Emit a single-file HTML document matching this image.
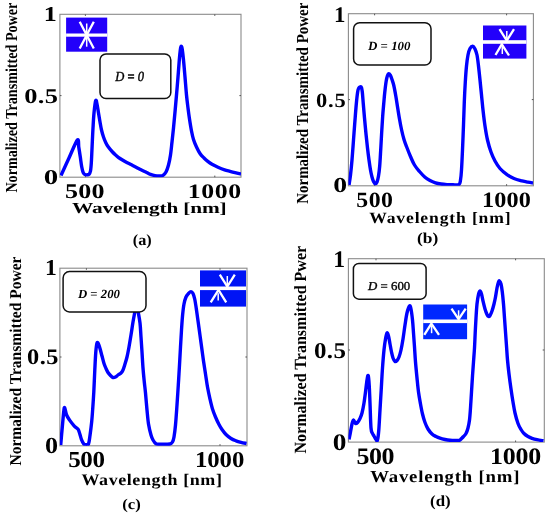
<!DOCTYPE html>
<html><head><meta charset="utf-8"><title>Transmitted power spectra</title>
<style>
html,body{margin:0;padding:0;background:#fff;}
svg{display:block;}
</style></head>
<body>
<svg width="550" height="516" viewBox="0 0 550 516">
<rect width="550" height="516" fill="#fff"/>
<rect x="59.9" y="14.3" width="181.10" height="162.90" fill="none" stroke="#8a8a8a" stroke-width="1.1"/>
<path d="M85.4,177.2 v-1.6 M85.4,14.3 v1.6" stroke="#555" stroke-width="1"/>
<path d="M214.8,177.2 v-1.6 M214.8,14.3 v1.6" stroke="#555" stroke-width="1"/>
<path d="M59.9,95.6 h1.6 M241,95.6 h-1.6" stroke="#555" stroke-width="1"/>
<clipPath id="clipa"><rect x="59.9" y="14.3" width="181.10" height="162.90"/></clipPath>
<path d="M61.00,175.50 C62.33,172.58 66.27,163.92 69.00,158.00 C71.73,152.08 75.77,141.77 77.40,140.00 C79.03,138.23 78.32,144.55 78.80,147.40 C79.28,150.25 79.82,153.87 80.30,157.10 C80.78,160.33 81.22,164.22 81.70,166.80 C82.18,169.38 82.65,171.30 83.20,172.60 C83.75,173.90 84.37,174.23 85.00,174.60 C85.63,174.97 86.33,174.85 87.00,174.80 C87.67,174.75 88.42,174.93 89.00,174.30 C89.58,173.67 90.12,172.88 90.50,171.00 C90.88,169.12 91.07,166.33 91.30,163.00 C91.53,159.67 91.72,154.83 91.90,151.00 C92.08,147.17 92.22,143.83 92.40,140.00 C92.58,136.17 92.73,132.50 93.00,128.00 C93.27,123.50 93.55,117.58 94.00,113.00 C94.45,108.42 95.20,102.00 95.70,100.50 C96.20,99.00 96.53,101.92 97.00,104.00 C97.47,106.08 98.00,110.00 98.50,113.00 C99.00,116.00 99.50,119.17 100.00,122.00 C100.50,124.83 100.92,127.50 101.50,130.00 C102.08,132.50 102.83,135.00 103.50,137.00 C104.17,139.00 104.75,140.42 105.50,142.00 C106.25,143.58 106.83,144.83 108.00,146.50 C109.17,148.17 111.17,150.53 112.50,152.00 C113.83,153.47 114.75,154.22 116.00,155.30 C117.25,156.38 118.50,157.47 120.00,158.50 C121.50,159.53 123.17,160.48 125.00,161.50 C126.83,162.52 129.08,163.62 131.00,164.60 C132.92,165.58 134.83,166.53 136.50,167.40 C138.17,168.27 139.32,168.95 141.00,169.80 C142.68,170.65 145.02,171.73 146.60,172.50 C148.18,173.27 149.10,173.87 150.50,174.40 C151.90,174.93 153.42,175.43 155.00,175.70 C156.58,175.97 158.67,176.05 160.00,176.00 C161.33,175.95 162.00,176.07 163.00,175.40 C164.00,174.73 165.08,173.73 166.00,172.00 C166.92,170.27 167.75,167.83 168.50,165.00 C169.25,162.17 169.92,158.83 170.50,155.00 C171.08,151.17 171.50,146.50 172.00,142.00 C172.50,137.50 173.00,133.00 173.50,128.00 C174.00,123.00 174.50,117.50 175.00,112.00 C175.50,106.50 176.00,100.83 176.50,95.00 C177.00,89.17 177.53,82.83 178.00,77.00 C178.47,71.17 178.92,64.50 179.30,60.00 C179.68,55.50 180.00,52.30 180.30,50.00 C180.60,47.70 180.78,46.37 181.10,46.20 C181.42,46.03 181.80,46.70 182.20,49.00 C182.60,51.30 183.03,55.33 183.50,60.00 C183.97,64.67 184.50,71.17 185.00,77.00 C185.50,82.83 186.00,89.83 186.50,95.00 C187.00,100.17 187.50,104.00 188.00,108.00 C188.50,112.00 188.92,115.17 189.50,119.00 C190.08,122.83 190.83,127.58 191.50,131.00 C192.17,134.42 192.67,136.83 193.50,139.50 C194.33,142.17 195.42,144.67 196.50,147.00 C197.58,149.33 198.75,151.67 200.00,153.50 C201.25,155.33 202.70,156.68 204.00,158.00 C205.30,159.32 206.47,160.35 207.80,161.40 C209.13,162.45 210.30,163.33 212.00,164.30 C213.70,165.27 215.90,166.28 218.00,167.20 C220.10,168.12 222.60,169.12 224.60,169.80 C226.60,170.48 228.27,170.83 230.00,171.30 C231.73,171.77 233.17,172.15 235.00,172.60 C236.83,173.05 240.00,173.77 241.00,174.00" fill="none" stroke="#0000ff" stroke-width="3.4" stroke-linejoin="round" stroke-linecap="butt" clip-path="url(#clipa)"/>
<rect x="100.0" y="53.9" width="70.80" height="44.70" rx="6" ry="6" fill="#fff" stroke="#111" stroke-width="1.5"/>
<rect x="66.1" y="17.6" width="41.10" height="34.10" fill="#2300fa"/>
<rect x="66.1" y="33.5" width="41.10" height="3.20" fill="#fff"/>
<path d="M79.7,21.7 L86.7,35.1 L93.8,21.7" fill="none" stroke="#fff" stroke-width="2.3"/>
<path d="M86.7,23.5 V33.5" stroke="#fff" stroke-width="1.5"/>
<path d="M79.7,48.5 L86.7,35.1 L93.8,48.5" fill="none" stroke="#fff" stroke-width="2.3"/>
<path d="M86.7,36.7 V46.7" stroke="#fff" stroke-width="1.5"/>
<rect x="348.4" y="13.7" width="185.00" height="172.10" fill="none" stroke="#8a8a8a" stroke-width="1.1"/>
<path d="M374.6,185.8 v-1.6 M374.6,13.7 v1.6" stroke="#555" stroke-width="1"/>
<path d="M506.6,185.8 v-1.6 M506.6,13.7 v1.6" stroke="#555" stroke-width="1"/>
<path d="M348.4,99.6 h1.6 M533.4,99.6 h-1.6" stroke="#555" stroke-width="1"/>
<clipPath id="clipb"><rect x="348.4" y="13.7" width="185.00" height="172.10"/></clipPath>
<path d="M349.00,185.00 C349.25,183.33 350.00,179.17 350.50,175.00 C351.00,170.83 351.50,165.83 352.00,160.00 C352.50,154.17 353.00,146.67 353.50,140.00 C354.00,133.33 354.53,126.00 355.00,120.00 C355.47,114.00 355.88,108.50 356.30,104.00 C356.72,99.50 357.12,95.62 357.50,93.00 C357.88,90.38 357.98,89.30 358.60,88.30 C359.22,87.30 360.58,86.38 361.20,87.00 C361.82,87.62 361.95,89.17 362.30,92.00 C362.65,94.83 362.93,99.67 363.30,104.00 C363.67,108.33 364.05,113.00 364.50,118.00 C364.95,123.00 365.50,129.00 366.00,134.00 C366.50,139.00 367.00,143.67 367.50,148.00 C368.00,152.33 368.50,156.33 369.00,160.00 C369.50,163.67 370.00,167.17 370.50,170.00 C371.00,172.83 371.50,175.08 372.00,177.00 C372.50,178.92 372.95,180.37 373.50,181.50 C374.05,182.63 374.72,183.72 375.30,183.80 C375.88,183.88 376.47,183.30 377.00,182.00 C377.53,180.70 378.05,178.67 378.50,176.00 C378.95,173.33 379.33,170.33 379.70,166.00 C380.07,161.67 380.37,155.67 380.70,150.00 C381.03,144.33 381.37,137.67 381.70,132.00 C382.03,126.33 382.37,120.67 382.70,116.00 C383.03,111.33 383.35,108.00 383.70,104.00 C384.05,100.00 384.38,95.83 384.80,92.00 C385.22,88.17 385.75,83.75 386.20,81.00 C386.65,78.25 387.08,76.73 387.50,75.50 C387.92,74.27 388.23,73.65 388.70,73.60 C389.17,73.55 389.75,74.22 390.30,75.20 C390.85,76.18 391.42,77.78 392.00,79.50 C392.58,81.22 393.17,82.75 393.80,85.50 C394.43,88.25 395.15,92.25 395.80,96.00 C396.45,99.75 397.08,104.17 397.70,108.00 C398.32,111.83 398.87,115.42 399.50,119.00 C400.13,122.58 400.75,126.08 401.50,129.50 C402.25,132.92 403.13,136.58 404.00,139.50 C404.87,142.42 405.62,144.17 406.70,147.00 C407.78,149.83 409.20,153.50 410.50,156.50 C411.80,159.50 413.00,162.50 414.50,165.00 C416.00,167.50 417.75,169.47 419.50,171.50 C421.25,173.53 423.25,175.70 425.00,177.20 C426.75,178.70 428.25,179.57 430.00,180.50 C431.75,181.43 433.67,182.22 435.50,182.80 C437.33,183.38 439.08,183.70 441.00,184.00 C442.92,184.30 445.00,184.47 447.00,184.60 C449.00,184.73 451.00,184.82 453.00,184.80 C455.00,184.78 457.75,185.30 459.00,184.50 C460.25,183.70 460.08,182.42 460.50,180.00 C460.92,177.58 461.17,175.00 461.50,170.00 C461.83,165.00 462.17,157.50 462.50,150.00 C462.83,142.50 463.20,133.00 463.50,125.00 C463.80,117.00 464.00,109.17 464.30,102.00 C464.60,94.83 464.93,88.00 465.30,82.00 C465.67,76.00 466.05,70.50 466.50,66.00 C466.95,61.50 467.42,57.92 468.00,55.00 C468.58,52.08 469.20,49.97 470.00,48.50 C470.80,47.03 471.97,46.12 472.80,46.20 C473.63,46.28 474.30,47.53 475.00,49.00 C475.70,50.47 476.42,52.17 477.00,55.00 C477.58,57.83 478.00,61.83 478.50,66.00 C479.00,70.17 479.50,75.17 480.00,80.00 C480.50,84.83 481.00,90.00 481.50,95.00 C482.00,100.00 482.42,104.83 483.00,110.00 C483.58,115.17 484.25,121.00 485.00,126.00 C485.75,131.00 486.50,135.67 487.50,140.00 C488.50,144.33 489.75,148.50 491.00,152.00 C492.25,155.50 493.50,158.25 495.00,161.00 C496.50,163.75 498.00,166.23 500.00,168.50 C502.00,170.77 504.67,172.93 507.00,174.60 C509.33,176.27 511.50,177.45 514.00,178.50 C516.50,179.55 519.67,180.28 522.00,180.90 C524.33,181.52 526.17,181.85 528.00,182.20 C529.83,182.55 532.17,182.87 533.00,183.00" fill="none" stroke="#0000ff" stroke-width="3.4" stroke-linejoin="round" stroke-linecap="butt" clip-path="url(#clipb)"/>
<rect x="353.6" y="22.8" width="77.40" height="42.30" rx="6" ry="6" fill="#fff" stroke="#111" stroke-width="1.5"/>
<rect x="483" y="25.5" width="43.40" height="33.10" fill="#2300fa"/>
<rect x="483" y="40.2" width="43.40" height="3.60" fill="#fff"/>
<path d="M499.5,29.1 L506.8,40.5 L514,29.1" fill="none" stroke="#fff" stroke-width="2.3"/>
<path d="M506.8,31 V38.5" stroke="#fff" stroke-width="1.5"/>
<path d="M495.5,55 L501.8,44.3 L509,55.5" fill="none" stroke="#fff" stroke-width="2.3"/>
<path d="M502.3,47 V54" stroke="#fff" stroke-width="1.5"/>
<rect x="59.9" y="268.2" width="187.10" height="177.60" fill="none" stroke="#8a8a8a" stroke-width="1.1"/>
<path d="M86.4,445.8 v-1.6 M86.4,268.2 v1.6" stroke="#555" stroke-width="1"/>
<path d="M220,445.8 v-1.6 M220,268.2 v1.6" stroke="#555" stroke-width="1"/>
<path d="M59.9,357 h1.6 M247,357 h-1.6" stroke="#555" stroke-width="1"/>
<clipPath id="clipc"><rect x="59.9" y="268.2" width="187.10" height="177.60"/></clipPath>
<path d="M60.70,445.00 C60.97,442.00 61.78,432.67 62.30,427.00 C62.82,421.33 63.40,414.20 63.80,411.00 C64.20,407.80 64.23,407.13 64.70,407.80 C65.17,408.47 65.75,412.90 66.60,415.00 C67.45,417.10 68.55,418.60 69.80,420.40 C71.05,422.20 72.90,424.48 74.10,425.80 C75.30,427.12 76.27,427.60 77.00,428.30 C77.73,429.00 78.02,429.00 78.50,430.00 C78.98,431.00 79.40,432.70 79.90,434.30 C80.40,435.90 80.87,438.02 81.50,439.60 C82.13,441.18 82.98,442.97 83.70,443.80 C84.42,444.63 85.00,444.57 85.80,444.60 C86.60,444.63 87.80,445.52 88.50,444.00 C89.20,442.48 89.47,439.22 90.00,435.50 C90.53,431.78 91.25,426.12 91.70,421.70 C92.15,417.28 92.35,413.95 92.70,409.00 C93.05,404.05 93.45,398.50 93.80,392.00 C94.15,385.50 94.47,376.67 94.80,370.00 C95.13,363.33 95.43,356.50 95.80,352.00 C96.17,347.50 96.55,344.33 97.00,343.00 C97.45,341.67 98.00,343.08 98.50,344.00 C99.00,344.92 99.42,346.50 100.00,348.50 C100.58,350.50 101.33,353.50 102.00,356.00 C102.67,358.50 103.33,361.42 104.00,363.50 C104.67,365.58 105.33,367.00 106.00,368.50 C106.67,370.00 107.25,371.33 108.00,372.50 C108.75,373.67 109.67,374.67 110.50,375.50 C111.33,376.33 112.17,377.25 113.00,377.50 C113.83,377.75 114.67,377.42 115.50,377.00 C116.33,376.58 117.08,375.67 118.00,375.00 C118.92,374.33 120.17,373.83 121.00,373.00 C121.83,372.17 122.33,371.50 123.00,370.00 C123.67,368.50 124.33,366.17 125.00,364.00 C125.67,361.83 126.33,359.83 127.00,357.00 C127.67,354.17 128.33,350.67 129.00,347.00 C129.67,343.33 130.33,339.17 131.00,335.00 C131.67,330.83 132.33,326.00 133.00,322.00 C133.67,318.00 134.42,314.17 135.00,311.00 C135.58,307.83 136.00,303.00 136.50,303.00 C137.00,303.00 137.42,307.67 138.00,311.00 C138.58,314.33 139.50,318.67 140.00,323.00 C140.50,327.33 140.67,332.17 141.00,337.00 C141.33,341.83 141.67,346.83 142.00,352.00 C142.33,357.17 142.62,363.00 143.00,368.00 C143.38,373.00 143.88,377.83 144.30,382.00 C144.72,386.17 145.05,388.33 145.50,393.00 C145.95,397.67 146.50,404.83 147.00,410.00 C147.50,415.17 147.83,419.83 148.50,424.00 C149.17,428.17 150.25,432.33 151.00,435.00 C151.75,437.67 152.17,438.53 153.00,440.00 C153.83,441.47 154.83,443.10 156.00,443.80 C157.17,444.50 158.50,444.13 160.00,444.20 C161.50,444.27 163.33,444.23 165.00,444.20 C166.67,444.17 168.75,444.37 170.00,444.00 C171.25,443.63 171.83,443.17 172.50,442.00 C173.17,440.83 173.50,439.83 174.00,437.00 C174.50,434.17 175.00,430.33 175.50,425.00 C176.00,419.67 176.53,411.67 177.00,405.00 C177.47,398.33 177.88,391.67 178.30,385.00 C178.72,378.33 179.13,371.33 179.50,365.00 C179.87,358.67 180.17,352.83 180.50,347.00 C180.83,341.17 181.15,335.33 181.50,330.00 C181.85,324.67 182.18,319.33 182.60,315.00 C183.02,310.67 183.43,307.00 184.00,304.00 C184.57,301.00 185.25,298.75 186.00,297.00 C186.75,295.25 187.67,294.40 188.50,293.50 C189.33,292.60 190.25,291.60 191.00,291.60 C191.75,291.60 192.38,292.27 193.00,293.50 C193.62,294.73 194.17,296.58 194.70,299.00 C195.23,301.42 195.72,304.83 196.20,308.00 C196.68,311.17 197.13,314.67 197.60,318.00 C198.07,321.33 198.52,324.50 199.00,328.00 C199.48,331.50 200.00,335.33 200.50,339.00 C201.00,342.67 201.50,346.33 202.00,350.00 C202.50,353.67 202.92,357.00 203.50,361.00 C204.08,365.00 204.83,369.67 205.50,374.00 C206.17,378.33 206.75,382.83 207.50,387.00 C208.25,391.17 209.17,395.33 210.00,399.00 C210.83,402.67 211.58,406.00 212.50,409.00 C213.42,412.00 214.42,414.42 215.50,417.00 C216.58,419.58 217.92,422.42 219.00,424.50 C220.08,426.58 220.83,427.83 222.00,429.50 C223.17,431.17 224.50,433.00 226.00,434.50 C227.50,436.00 229.33,437.45 231.00,438.50 C232.67,439.55 234.33,440.17 236.00,440.80 C237.67,441.43 239.25,441.85 241.00,442.30 C242.75,442.75 245.58,443.30 246.50,443.50" fill="none" stroke="#0000ff" stroke-width="3.4" stroke-linejoin="round" stroke-linecap="butt" clip-path="url(#clipc)"/>
<rect x="63.1" y="271.6" width="82.90" height="40.30" rx="6.3" ry="6.3" fill="#fff" stroke="#111" stroke-width="1.5"/>
<rect x="200" y="270.4" width="46.00" height="36.20" fill="#0014f5"/>
<rect x="200" y="286.5" width="46.00" height="3.60" fill="#fff"/>
<path d="M219.8,274.6 L227.3,286.5 L234.8,274.6" fill="none" stroke="#fff" stroke-width="2.3"/>
<path d="M227.3,276 V285.5" stroke="#fff" stroke-width="1.5"/>
<path d="M210.7,302.4 L218.5,290 L226.2,302.4" fill="none" stroke="#fff" stroke-width="2.3"/>
<path d="M218.2,293.3 V300.5" stroke="#fff" stroke-width="1.5"/>
<rect x="348.4" y="258.7" width="195.90" height="183.40" fill="none" stroke="#8a8a8a" stroke-width="1.1"/>
<path d="M376,442.1 v-1.6 M376,258.7 v1.6" stroke="#555" stroke-width="1"/>
<path d="M515.6,442.1 v-1.6 M515.6,258.7 v1.6" stroke="#555" stroke-width="1"/>
<path d="M348.4,350 h1.6 M544.3,350 h-1.6" stroke="#555" stroke-width="1"/>
<clipPath id="clipd"><rect x="348.4" y="258.7" width="195.90" height="183.40"/></clipPath>
<path d="M349.00,439.50 C349.25,438.25 350.00,434.58 350.50,432.00 C351.00,429.42 351.50,426.00 352.00,424.00 C352.50,422.00 352.92,420.08 353.50,420.00 C354.08,419.92 354.83,423.08 355.50,423.50 C356.17,423.92 356.75,423.33 357.50,422.50 C358.25,421.67 359.25,420.08 360.00,418.50 C360.75,416.92 361.33,415.58 362.00,413.00 C362.67,410.42 363.42,406.50 364.00,403.00 C364.58,399.50 365.00,395.83 365.50,392.00 C366.00,388.17 366.55,382.75 367.00,380.00 C367.45,377.25 367.83,374.67 368.20,375.50 C368.57,376.33 368.90,380.42 369.20,385.00 C369.50,389.58 369.70,395.83 370.00,403.00 C370.30,410.17 370.58,422.92 371.00,428.00 C371.42,433.08 372.00,432.17 372.50,433.50 C373.00,434.83 373.42,435.00 374.00,436.00 C374.58,437.00 375.42,438.83 376.00,439.50 C376.58,440.17 377.03,441.58 377.50,440.00 C377.97,438.42 378.38,435.00 378.80,430.00 C379.22,425.00 379.60,416.67 380.00,410.00 C380.40,403.33 380.78,397.00 381.20,390.00 C381.62,383.00 382.03,374.67 382.50,368.00 C382.97,361.33 383.50,354.83 384.00,350.00 C384.50,345.17 385.00,341.83 385.50,339.00 C386.00,336.17 386.50,333.50 387.00,333.00 C387.50,332.50 388.00,334.17 388.50,336.00 C389.00,337.83 389.50,341.33 390.00,344.00 C390.50,346.67 391.00,349.67 391.50,352.00 C392.00,354.33 392.42,356.42 393.00,358.00 C393.58,359.58 394.33,361.08 395.00,361.50 C395.67,361.92 396.33,361.25 397.00,360.50 C397.67,359.75 398.33,358.75 399.00,357.00 C399.67,355.25 400.33,353.00 401.00,350.00 C401.67,347.00 402.33,343.17 403.00,339.00 C403.67,334.83 404.33,329.33 405.00,325.00 C405.67,320.67 406.25,316.17 407.00,313.00 C407.75,309.83 408.83,306.67 409.50,306.00 C410.17,305.33 410.50,306.67 411.00,309.00 C411.50,311.33 412.08,316.00 412.50,320.00 C412.92,324.00 413.17,328.50 413.50,333.00 C413.83,337.50 414.17,342.17 414.50,347.00 C414.83,351.83 415.08,356.83 415.50,362.00 C415.92,367.17 416.50,373.00 417.00,378.00 C417.50,383.00 417.92,387.67 418.50,392.00 C419.08,396.33 419.83,400.33 420.50,404.00 C421.17,407.67 421.75,410.92 422.50,414.00 C423.25,417.08 424.08,420.00 425.00,422.50 C425.92,425.00 426.83,427.08 428.00,429.00 C429.17,430.92 430.67,432.75 432.00,434.00 C433.33,435.25 434.67,435.80 436.00,436.50 C437.33,437.20 438.50,437.70 440.00,438.20 C441.50,438.70 443.33,439.15 445.00,439.50 C446.67,439.85 448.33,440.13 450.00,440.30 C451.67,440.47 453.42,440.50 455.00,440.50 C456.58,440.50 458.42,440.63 459.50,440.30 C460.58,439.97 460.83,439.13 461.50,438.50 C462.17,437.87 462.75,437.33 463.50,436.50 C464.25,435.67 465.25,434.92 466.00,433.50 C466.75,432.08 467.42,430.25 468.00,428.00 C468.58,425.75 469.08,423.33 469.50,420.00 C469.92,416.67 470.17,412.67 470.50,408.00 C470.83,403.33 471.17,397.33 471.50,392.00 C471.83,386.67 472.17,381.00 472.50,376.00 C472.83,371.00 473.17,366.67 473.50,362.00 C473.83,357.33 474.22,352.83 474.50,348.00 C474.78,343.17 474.95,338.00 475.20,333.00 C475.45,328.00 475.70,322.83 476.00,318.00 C476.30,313.17 476.58,307.92 477.00,304.00 C477.42,300.08 478.00,296.67 478.50,294.50 C479.00,292.33 479.50,291.08 480.00,291.00 C480.50,290.92 481.00,292.33 481.50,294.00 C482.00,295.67 482.42,298.50 483.00,301.00 C483.58,303.50 484.33,306.75 485.00,309.00 C485.67,311.25 486.42,313.25 487.00,314.50 C487.58,315.75 488.00,316.33 488.50,316.50 C489.00,316.67 489.42,316.42 490.00,315.50 C490.58,314.58 491.33,312.92 492.00,311.00 C492.67,309.08 493.42,306.33 494.00,304.00 C494.58,301.67 495.00,299.67 495.50,297.00 C496.00,294.33 496.50,290.50 497.00,288.00 C497.50,285.50 498.08,283.17 498.50,282.00 C498.92,280.83 499.08,280.67 499.50,281.00 C499.92,281.33 500.53,282.17 501.00,284.00 C501.47,285.83 501.88,288.67 502.30,292.00 C502.72,295.33 503.13,299.67 503.50,304.00 C503.87,308.33 504.17,313.33 504.50,318.00 C504.83,322.67 505.17,327.33 505.50,332.00 C505.83,336.67 506.17,341.33 506.50,346.00 C506.83,350.67 507.08,355.33 507.50,360.00 C507.92,364.67 508.42,369.17 509.00,374.00 C509.58,378.83 510.33,384.33 511.00,389.00 C511.67,393.67 512.33,398.00 513.00,402.00 C513.67,406.00 514.17,409.42 515.00,413.00 C515.83,416.58 517.00,420.75 518.00,423.50 C519.00,426.25 520.00,427.83 521.00,429.50 C522.00,431.17 522.83,432.33 524.00,433.50 C525.17,434.67 526.67,435.70 528.00,436.50 C529.33,437.30 530.50,437.77 532.00,438.30 C533.50,438.83 535.08,439.28 537.00,439.70 C538.92,440.12 542.42,440.62 543.50,440.80" fill="none" stroke="#0000ff" stroke-width="3.4" stroke-linejoin="round" stroke-linecap="butt" clip-path="url(#clipd)"/>
<rect x="353.4" y="263.4" width="72.70" height="35.80" rx="5.5" ry="5.5" fill="#fff" stroke="#111" stroke-width="1.5"/>
<rect x="423.2" y="304.5" width="43.90" height="34.70" fill="#0028ff"/>
<rect x="423.2" y="319.5" width="43.90" height="3.60" fill="#fff"/>
<path d="M451.5,308.6 L458.6,319.2 L465.7,308.6" fill="none" stroke="#fff" stroke-width="2.3"/>
<path d="M458.6,310.3 V318.4" stroke="#fff" stroke-width="1.5"/>
<path d="M424.3,334.8 L431.4,323.6 L439,334.8" fill="none" stroke="#fff" stroke-width="2.3"/>
<path d="M431.6,326 V333.2" stroke="#fff" stroke-width="1.5"/>
<text id="a_ylab" transform="translate(16.94,192.60) rotate(-90)" text-rendering="geometricPrecision" font-family="'Liberation Serif','Times New Roman',serif" font-size="16.79" textLength="189.87" lengthAdjust="spacingAndGlyphs" font-weight="bold">Normalized Transmitted Power</text>
<text id="a_t1" x="43.76" y="21.40" text-rendering="geometricPrecision" font-family="'Liberation Serif','Times New Roman',serif" font-size="21.13" textLength="13.04" lengthAdjust="spacingAndGlyphs" font-weight="bold">1</text>
<text id="a_t0.5" transform="translate(24.30,103.00) scale(1.25,1)" text-rendering="geometricPrecision" font-family="'Liberation Serif','Times New Roman',serif" font-size="21.16" textLength="26.87" lengthAdjust="spacing" font-weight="bold">0.5</text>
<text id="a_t0" x="43.86" y="184.26" text-rendering="geometricPrecision" font-family="'Liberation Serif','Times New Roman',serif" font-size="20.97" textLength="14.47" lengthAdjust="spacingAndGlyphs" font-weight="bold">0</text>
<text id="a_t500" transform="translate(65.10,197.61) scale(1.25,1)" text-rendering="geometricPrecision" font-family="'Liberation Serif','Times New Roman',serif" font-size="20.83" textLength="31.64" lengthAdjust="spacing" font-weight="bold">500</text>
<text id="a_t1000" transform="translate(187.80,197.50) scale(1.25,1)" text-rendering="geometricPrecision" font-family="'Liberation Serif','Times New Roman',serif" font-size="20.63" textLength="42.77" lengthAdjust="spacing" font-weight="bold">1000</text>
<text id="a_xlab" transform="translate(71.99,213.03) scale(1.4,1)" text-rendering="geometricPrecision" font-family="'Liberation Serif','Times New Roman',serif" font-size="15.25" textLength="110.52" lengthAdjust="spacing" font-weight="bold">Wavelength [nm]</text>
<text id="a_cap" x="132.72" y="245.27" text-rendering="geometricPrecision" font-family="'Liberation Serif','Times New Roman',serif" font-size="15.65" textLength="18.96" lengthAdjust="spacingAndGlyphs" font-weight="bold">(a)</text>
<text id="a_leg" x="115.28" y="80.75" text-rendering="geometricPrecision" font-family="'Liberation Serif','Times New Roman',serif" font-size="13.86" textLength="28.74" lengthAdjust="spacingAndGlyphs" font-style="italic" stroke="#000" stroke-width="0.4">D <tspan font-style="normal" font-weight="bold">=</tspan> 0</text>
<text id="b_ylab" transform="translate(308.47,203.69) rotate(-90)" text-rendering="geometricPrecision" font-family="'Liberation Serif','Times New Roman',serif" font-size="16.84" textLength="200.97" lengthAdjust="spacingAndGlyphs" font-weight="bold">Normalized Transmitted Power</text>
<text id="b_t1" x="333.98" y="21.50" text-rendering="geometricPrecision" font-family="'Liberation Serif','Times New Roman',serif" font-size="22.44" textLength="11.43" lengthAdjust="spacingAndGlyphs" font-weight="bold">1</text>
<text id="b_t0.5" transform="translate(316.00,106.82) scale(1.1,1)" text-rendering="geometricPrecision" font-family="'Liberation Serif','Times New Roman',serif" font-size="20.45" textLength="26.97" lengthAdjust="spacing" font-weight="bold">0.5</text>
<text id="b_t0" x="333.16" y="192.34" text-rendering="geometricPrecision" font-family="'Liberation Serif','Times New Roman',serif" font-size="21.28" textLength="13.87" lengthAdjust="spacingAndGlyphs" font-weight="bold">0</text>
<text id="b_t500" transform="translate(356.25,206.50) scale(1.1,1)" text-rendering="geometricPrecision" font-family="'Liberation Serif','Times New Roman',serif" font-size="21.67" textLength="33.39" lengthAdjust="spacing" font-weight="bold">500</text>
<text id="b_t1000" transform="translate(482.01,207.16) scale(1.1,1)" text-rendering="geometricPrecision" font-family="'Liberation Serif','Times New Roman',serif" font-size="21.99" textLength="44.46" lengthAdjust="spacing" font-weight="bold">1000</text>
<text id="b_xlab" transform="translate(369.24,223.12) scale(1.12,1)" text-rendering="geometricPrecision" font-family="'Liberation Serif','Times New Roman',serif" font-size="15.72" textLength="126.23" lengthAdjust="spacing" font-weight="bold">Wavelength [nm]</text>
<text id="b_cap" x="417.04" y="242.73" text-rendering="geometricPrecision" font-family="'Liberation Serif','Times New Roman',serif" font-size="14.98" textLength="21.22" lengthAdjust="spacingAndGlyphs" font-weight="bold">(b)</text>
<text id="b_leg" x="367.90" y="49.66" text-rendering="geometricPrecision" font-family="'Liberation Serif','Times New Roman',serif" font-size="12.53" textLength="42.68" lengthAdjust="spacingAndGlyphs" font-style="italic" font-weight="bold">D <tspan font-style="normal">=</tspan> 100</text>
<text id="c_ylab" transform="translate(20.83,465.50) rotate(-90)" text-rendering="geometricPrecision" font-family="'Liberation Serif','Times New Roman',serif" font-size="16.55" textLength="208.98" lengthAdjust="spacingAndGlyphs" font-weight="bold">Normalized Transmitted Power</text>
<text id="c_t1" x="45.12" y="275.20" text-rendering="geometricPrecision" font-family="'Liberation Serif','Times New Roman',serif" font-size="22.93" textLength="11.83" lengthAdjust="spacingAndGlyphs" font-weight="bold">1</text>
<text id="c_t0.5" transform="translate(27.03,363.67) scale(1.1,1)" text-rendering="geometricPrecision" font-family="'Liberation Serif','Times New Roman',serif" font-size="22.12" textLength="28.44" lengthAdjust="spacing" font-weight="bold">0.5</text>
<text id="c_t0" x="44.91" y="453.49" text-rendering="geometricPrecision" font-family="'Liberation Serif','Times New Roman',serif" font-size="23.09" textLength="13.08" lengthAdjust="spacingAndGlyphs" font-weight="bold">0</text>
<text id="c_t500" transform="translate(68.17,467.46) scale(1.1,1)" text-rendering="geometricPrecision" font-family="'Liberation Serif','Times New Roman',serif" font-size="22.79" textLength="33.45" lengthAdjust="spacing" font-weight="bold">500</text>
<text id="c_t1000" transform="translate(195.04,466.95) scale(1.1,1)" text-rendering="geometricPrecision" font-family="'Liberation Serif','Times New Roman',serif" font-size="22.59" textLength="44.81" lengthAdjust="spacing" font-weight="bold">1000</text>
<text id="c_xlab" transform="translate(81.56,485.26) scale(1.12,1)" text-rendering="geometricPrecision" font-family="'Liberation Serif','Times New Roman',serif" font-size="16.06" textLength="125.30" lengthAdjust="spacing" font-weight="bold">Wavelength [nm]</text>
<text id="c_cap" x="122.24" y="509.37" text-rendering="geometricPrecision" font-family="'Liberation Serif','Times New Roman',serif" font-size="14.89" textLength="18.47" lengthAdjust="spacingAndGlyphs" font-weight="bold">(c)</text>
<text id="c_leg" x="77.92" y="297.53" text-rendering="geometricPrecision" font-family="'Liberation Serif','Times New Roman',serif" font-size="12.41" textLength="42.05" lengthAdjust="spacingAndGlyphs" font-style="italic" font-weight="bold">D <tspan font-style="normal">=</tspan> 200</text>
<text id="d_ylab" transform="translate(306.47,453.46) rotate(-90)" text-rendering="geometricPrecision" font-family="'Liberation Serif','Times New Roman',serif" font-size="17.11" textLength="207.58" lengthAdjust="spacingAndGlyphs" font-weight="bold">Normalized Transmitted Pwer</text>
<text id="d_t1" x="333.14" y="266.60" text-rendering="geometricPrecision" font-family="'Liberation Serif','Times New Roman',serif" font-size="23.70" textLength="11.84" lengthAdjust="spacingAndGlyphs" font-weight="bold">1</text>
<text id="d_t0.5" transform="translate(313.91,357.96) scale(1.1,1)" text-rendering="geometricPrecision" font-family="'Liberation Serif','Times New Roman',serif" font-size="22.70" textLength="29.10" lengthAdjust="spacing" font-weight="bold">0.5</text>
<text id="d_t0" x="332.73" y="450.03" text-rendering="geometricPrecision" font-family="'Liberation Serif','Times New Roman',serif" font-size="23.82" textLength="13.65" lengthAdjust="spacingAndGlyphs" font-weight="bold">0</text>
<text id="d_t500" transform="translate(356.53,464.16) scale(1.1,1)" text-rendering="geometricPrecision" font-family="'Liberation Serif','Times New Roman',serif" font-size="23.61" textLength="34.58" lengthAdjust="spacing" font-weight="bold">500</text>
<text id="d_t1000" transform="translate(489.92,463.95) scale(1.1,1)" text-rendering="geometricPrecision" font-family="'Liberation Serif','Times New Roman',serif" font-size="23.60" textLength="46.57" lengthAdjust="spacing" font-weight="bold">1000</text>
<text id="d_xlab" transform="translate(370.22,482.09) scale(1.12,1)" text-rendering="geometricPrecision" font-family="'Liberation Serif','Times New Roman',serif" font-size="16.77" textLength="133.32" lengthAdjust="spacing" font-weight="bold">Wavelength [nm]</text>
<text id="d_cap" x="430.02" y="506.23" text-rendering="geometricPrecision" font-family="'Liberation Serif','Times New Roman',serif" font-size="15.61" textLength="20.62" lengthAdjust="spacingAndGlyphs" font-weight="bold">(d)</text>
<text id="d_leg" x="368.11" y="289.51" text-rendering="geometricPrecision" font-family="'Liberation Serif','Times New Roman',serif" font-size="12.12" textLength="42.13" lengthAdjust="spacingAndGlyphs" stroke="#000" stroke-width="0.35"><tspan font-style="italic">D</tspan> = 600</text>
</svg>
</body></html>
